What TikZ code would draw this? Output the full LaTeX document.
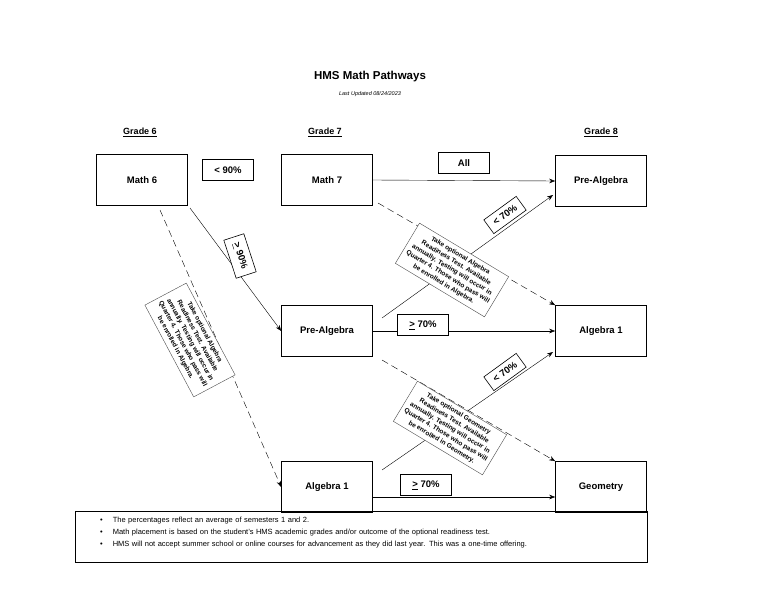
\documentclass[tikz,border=0pt]{standalone}
\usepackage{fontspec}
\setmainfont{Liberation Sans}
\usetikzlibrary{positioning, arrows.meta, calc}

\begin{document}
\begin{tikzpicture}[ x = 1pt, y = -1pt
                     , font = \fontsize{9}{10}\selectfont
                     , >={Stealth[width=0.45em, length=0.6em]}
                     , course/.style = { rectangle, draw = black, semithick
                                       , minimum width = 91pt, minimum height = 51pt
                                       , font = \fontsize{9.5}{11}\selectfont\bfseries }
                     , pct/.style = { rectangle, draw = black, semithick, fill = white
                                    , minimum width = 51pt, minimum height = 21pt
                                    , font = \fontsize{9.5}{11}\selectfont\bfseries }
                     , note/.style = { rectangle, draw = black!70, fill = white, align = center
                                     , inner sep = 4pt
                                     , font = \fontsize{6.5}{8.2}\selectfont\bfseries }
                     , path/.style = { ->, thin }
                     , opt/.style = { ->, thin, dash pattern = on 7pt off 4pt }
                     ]
  \useasboundingbox (0,0) rectangle (768,594);

  % titles
  \node at (370,77) {\fontsize{11.5}{13}\selectfont\bfseries HMS Math Pathways};
  \node at (370,94) {\fontsize{5.5}{6}\selectfont\itshape Last Updated 08/24/2023};
  \node at (140,132) {\bfseries\underline{Grade 6}};
  \node at (325,132) {\bfseries\underline{Grade 7}};
  \node at (601,132) {\bfseries\underline{Grade 8}};

  % courses
  \node (math6) [course] at (142,180) {Math 6};
  \node (math7) [course] at (327,180) {Math 7};
  \node (prealg8) [course] at (601,181) {Pre-Algebra};
  \node (prealg7) [course] at (327,331) {Pre-Algebra};
  \node (alg8) [course] at (601,331) {Algebra 1};
  \node (alg7) [course] at (327,487) {Algebra 1};
  \node (geom) [course] at (601,487) {Geometry};

  % connectors
  \draw[path] (math7.east) -- (prealg8.west);
  \draw[path] (prealg7.east |- alg8.west) -- (alg8.west);
  \draw[path] (alg7.east |- 0,497) -- (geom.west |- 0,497);
  \draw[path] (190,208) -- (prealg7.west);
  \draw[opt] (160,210) -- (alg7.west);
  \draw[opt] (378,203) -- (alg8.north west);
  \draw[opt] (382,360) -- (geom.north west);
  \draw[path] (382,318) -- (553,195);
  \draw[path] (382,470) -- (553,352);

  % percentages
  \node (lt90) [pct] at (228,170) {< 90\%};
  \node (all) [pct] at (464,163) {All};
  \node (ge90) [pct, minimum width = 40pt, rotate = -72] at (240,256) {\underline{>} 90\%};
  \node (ge70a) [pct] at (423,325) {\underline{>} 70\%};
  \node (ge70b) [pct] at (426,485) {\underline{>} 70\%};
  \node (lt70a) [pct, minimum width = 40pt, minimum height = 17pt, rotate = 36] at (505,215) {< 70\%};
  \node (lt70b) [pct, minimum width = 40pt, minimum height = 17pt, rotate = 36] at (505,372) {< 70\%};

  % readiness notes
  \node (noteAlg6) [note, rotate = -62] at (190,340) {Take optional Algebra\\Readiness Test. Available\\annually. Testing will occur in\\Quarter 4. Those who pass will\\be enrolled in Algebra.};
  \node (noteAlg7) [note, rotate = -31] at (452,270) {Take optional Algebra\\Readiness Test. Available\\annually. Testing will occur in\\Quarter 4. Those who pass will\\be enrolled in Algebra.};
  \node (noteGeo7) [note, rotate = -31] at (450,428) {Take optional Geometry\\Readiness Test. Available\\annually. Testing will occur in\\Quarter 4. Those who pass will\\be enrolled in Geometry.};

  % footnotes
  \draw[semithick] (75,511) rectangle (647,562);
  \node (notes) [anchor = north west, text width = 540pt, inner sep = 0pt, font = \fontsize{7.5}{12}\selectfont] at (100,517)
  {\textbullet\hspace{10pt}The percentages reflect an average of semesters 1 and 2.\\
   \textbullet\hspace{10pt}Math placement is based on the student’s HMS academic grades and/or outcome of the optional readiness test.\\
   \textbullet\hspace{10pt}HMS will not accept summer school or online courses for advancement as they did last year. This was a one-time offering.};
\end{tikzpicture}
\end{document}
